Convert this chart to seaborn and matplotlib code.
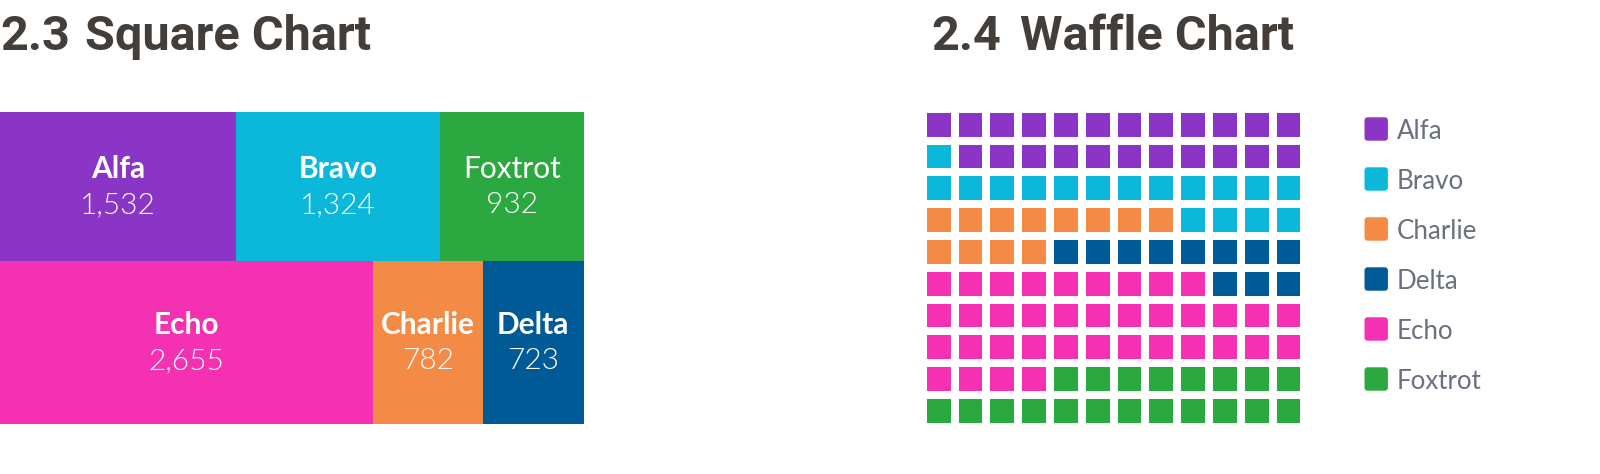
import matplotlib
matplotlib.use("Agg")
import matplotlib.pyplot as plt
from matplotlib.patches import Rectangle, FancyBboxPatch
from matplotlib.colors import ListedColormap
from matplotlib import font_manager as fm
import numpy as np
import seaborn as sns

# ---------------- data ----------------
categories = ["Alfa", "Bravo", "Charlie", "Delta", "Echo", "Foxtrot"]
values = [1532, 1324, 782, 723, 2655, 932]
colors = ["#8B35C6", "#0BB8DA", "#F38A45", "#005A96", "#F331B2", "#2BA83F"]
# cells per category in the 12 x 10 waffle
waffle_counts = [23, 17, 12, 11, 37, 20]
waffle_cols = 12
waffle_rows = 10
# treemap row arrangement
treemap_rows = [["Alfa", "Bravo", "Foxtrot"], ["Echo", "Charlie", "Delta"]]
titles = [("2.3", "Square Chart"), ("2.4", "Waffle Chart")]

sns.set_theme(style="white")
plt.rcParams["font.family"] = ["Lato", "DejaVu Sans"]


def find_light():
    prefs = ["Lato", "Roboto", "Open Sans", "Inter", "Noto Sans"]
    for fam in prefs:
        for f in fm.fontManager.ttflist:
            low = f.fname.lower()
            if f.name == fam and f.style == "normal" and (f.weight in (300, "light")) \
                    and "hairline" not in low and "thin" not in low and "italic" not in low:
                return fm.FontProperties(fname=f.fname)
    return fm.FontProperties(family="Lato", weight="normal")


light_fp = find_light()

W, H = 1600, 474
fig = plt.figure(figsize=(W / 100, H / 100), dpi=100)
fig.patch.set_facecolor("white")


def px_axes(x0, y0, x1, y1):
    return fig.add_axes([x0 / W, 1 - y1 / H, (x1 - x0) / W, (y1 - y0) / H])


TITLE_COLOR = "#433E39"
PT = 72 / 100  # points per pixel


def title(x, num, label, gap):
    fig.text(x / W, 1 - 50 / H, num, fontsize=35, fontweight="bold",
             family=["Roboto", "DejaVu Sans"], color=TITLE_COLOR, va="baseline", ha="left")
    fig.text((x + gap) / W, 1 - 50 / H, label, fontsize=35, fontweight="bold",
             family=["Roboto", "DejaVu Sans"], color=TITLE_COLOR, va="baseline", ha="left")


title(0, titles[0][0], titles[0][1], 85)
title(931, titles[1][0], titles[1][1], 89)

# ---------------- treemap ----------------
val = dict(zip(categories, values))
col = dict(zip(categories, colors))
label_weight = {c: "bold" for c in categories}
label_weight["Foxtrot"] = "normal"
total = sum(values)
ax = px_axes(0, 112, 584, 424)
ax.set_xlim(0, 1)
ax.set_ylim(1, 0)
ax.axis("off")
y = 0.0
for row in treemap_rows:
    rsum = sum(val[c] for c in row)
    h = rsum / total
    x = 0.0
    for c in row:
        w = val[c] / rsum
        ax.add_patch(Rectangle((x, y), w, h, facecolor=col[c], edgecolor="none"))
        cx, cy = x + w / 2, y + h / 2
        ax.annotate(c, (cx, cy), xytext=(0, 8 * PT), textcoords="offset points",
                    ha="center", va="baseline", color="white", fontsize=21.5,
                    fontweight=label_weight[c])
        lfp = light_fp.copy()
        lfp.set_size(21.5)
        ax.annotate(f"{val[c]:,}", (cx, cy), xytext=(0, -27 * PT), textcoords="offset points",
                    ha="center", va="baseline", color="white", fontproperties=lfp)
        x += w
    y += h

# ---------------- waffle ----------------
grid = np.zeros((waffle_rows, waffle_cols))
seq = np.repeat(np.arange(len(categories)), waffle_counts)
k = 0
for r in range(waffle_rows):
    cols_order = range(waffle_cols) if r % 2 == 0 else range(waffle_cols - 1, -1, -1)
    for cidx in cols_order:
        grid[r, cidx] = seq[k]
        k += 1

pitch = 31.8
gap = 6.4
gx0, gy0 = 926 - gap / 2, 112 - gap / 2
axw = px_axes(gx0, gy0, gx0 + waffle_cols * pitch, gy0 + waffle_rows * pitch)
sns.heatmap(grid, cmap=ListedColormap(colors), vmin=-0.5, vmax=len(categories) - 0.5,
            cbar=False, linewidths=gap * PT, linecolor="white", ax=axw,
            xticklabels=False, yticklabels=False)
axw.axis("off")

# ---------------- legend ----------------
axl = px_axes(1360, 104, 1600, 404)
axl.set_xlim(0, 240)
axl.set_ylim(300, 0)
axl.axis("off")
sq = 23.4
for i, (c, cc) in enumerate(zip(categories, colors)):
    yc = 25 + 50 * i
    axl.add_patch(FancyBboxPatch((4.5, yc - sq / 2), sq, sq,
                                 boxstyle="round,pad=0,rounding_size=3",
                                 facecolor=cc, edgecolor="none"))
    axl.text(37, yc, c, fontsize=18.6, color="#6B7080", va="center_baseline", ha="left")

fig.savefig("out.png", dpi=100, facecolor="white")
